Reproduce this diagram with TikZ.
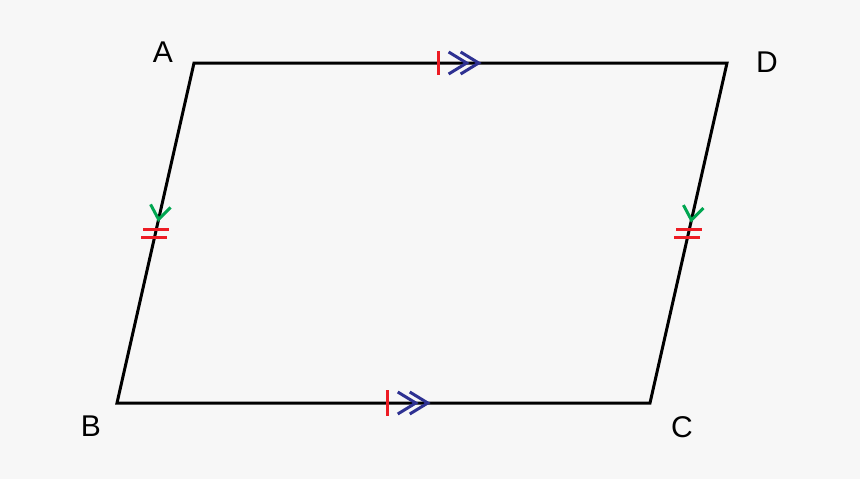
\documentclass[tikz,border=0pt]{standalone}
\usepackage{fontspec}
\setmainfont{Liberation Sans}
\usetikzlibrary{calc}
\definecolor{paper}{HTML}{F7F7F7}
\definecolor{tickred}{HTML}{ED1C24}
\definecolor{arrowblue}{HTML}{2E3192}
\definecolor{arrowgreen}{HTML}{00A651}

\begin{document}
\begin{tikzpicture}[x=1pt,y=-1pt]
  \tikzstyle{side}=[color=black, line width=3pt, line join=miter]
  \tikzstyle{tick}=[color=tickred, line width=3pt]
  \tikzstyle{chev}=[color=arrowblue, line width=3pt]
  \tikzstyle{turn}=[color=arrowgreen, line width=3pt]
  \tikzstyle{vertex}=[font=\fontsize{30}{36}\selectfont, inner sep=0pt]

  \fill[paper] (0,0) rectangle (860,479);
  \useasboundingbox (0,0) rectangle (860,479);

  \coordinate (A) at (194,63);
  \coordinate (D) at (727,63);
  \coordinate (C) at (650,403);
  \coordinate (B) at (117,403);
  \draw[side] (A) -- (D) -- (C) -- (B) -- cycle;

  \node[vertex] (lA) at (163,52) {A};
  \node[vertex] (lD) at (767,62) {D};
  \node[vertex] (lB) at (91,426) {B};
  \node[vertex] (lC) at (682,427) {C};

  % parallel marks on AD and BC
  \coordinate (pAD) at ($(A)!0.459!(D)$);
  \coordinate (pBC) at ($(B)!0.508!(C)$);
  \draw[tick] (pAD) ++(0,-12) -- ++(0,24);
  \draw[chev] (pAD) ++(10,-11) -- ++(18,11) -- ++(-18,11);
  \draw[chev] (pAD) ++(22,-11) -- ++(18,11) -- ++(-18,11);
  \draw[tick] (pBC) ++(0,-13) -- ++(0,26);
  \draw[chev] (pBC) ++(10,-11) -- ++(18,11) -- ++(-18,11);
  \draw[chev] (pBC) ++(22,-11) -- ++(18,11) -- ++(-18,11);

  % parallel and equal marks on AB and DC
  \coordinate (gAB) at ($(A)!0.46!(B)$);
  \coordinate (gDC) at ($(D)!0.462!(C)$);
  \draw[turn] ($(gAB)+(-8,-15)$) -- (gAB) -- ($(gAB)+(12,-12)$);
  \draw[turn] ($(gDC)+(-8,-15)$) -- (gDC) -- ($(gDC)+(12,-12)$);
  \draw[tick] ($(A)!0.491!(B)$) ++(-13,0) -- ++(26,0);
  \draw[tick] ($(A)!0.514!(B)$) ++(-13,0) -- ++(26,0);
  \draw[tick] ($(D)!0.491!(C)$) ++(-13,0) -- ++(26,0);
  \draw[tick] ($(D)!0.514!(C)$) ++(-13,0) -- ++(26,0);
\end{tikzpicture}
\end{document}
